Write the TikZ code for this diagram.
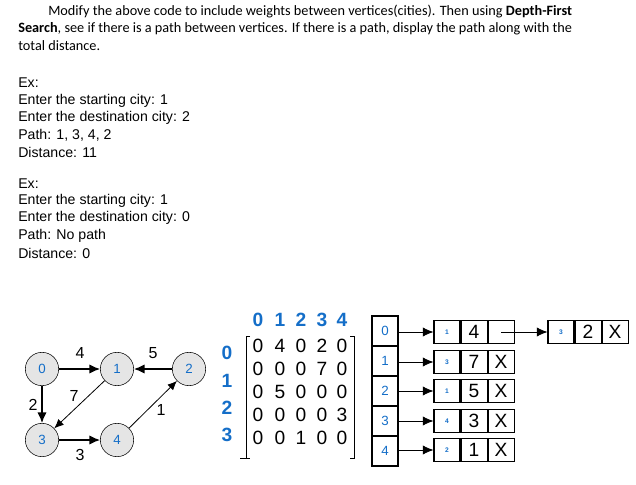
\documentclass[tikz,border=0pt]{standalone}
\usepackage{fontspec}
\setmainfont{Liberation Sans}
\newfontfamily\carlito{Carlito}
\usetikzlibrary{arrows.meta}
\definecolor{lblue}{RGB}{20,110,200}
\tikzset{
  vert/.style={circle,draw=black,fill=black!10,minimum size=25pt,inner sep=0pt,text=lblue,font=\normalsize},
  edge/.style={-{Latex[length=7pt,width=6pt]},line width=0.6pt},
  tedge/.style={-{Latex[length=8pt,width=7pt]},line width=1.1pt},
  wt/.style={font=\large},
  cell/.style={draw=black,line width=0.8pt,minimum width=19.5pt,minimum height=17pt,inner sep=0pt},
  arr/.style={draw=black,line width=1.2pt,minimum width=19.5pt,minimum height=22.3pt,inner sep=0pt,text=lblue,font=\normalsize},
  idx/.style={cell,text=lblue,font=\fontsize{5}{6}\selectfont\bfseries},
  hd/.style={text=lblue,font=\Large\bfseries},
  mx/.style={font=\Large},
  lnk/.style={-{Latex[length=8pt,width=7pt]},line width=0.6pt},
  txt/.style={anchor=west,inner sep=0pt,font=\fontsize{10.6}{12}\selectfont},
  para/.style={anchor=west,inner sep=0pt,font=\carlito\fontsize{10.7}{12}\selectfont}
}
\begin{document}
\begin{tikzpicture}[x=0.75pt,y=-0.75pt]
\useasboundingbox (0,0) rectangle (636,485);
% task text
\node[para] (p1) at (48,12) {Modify the above code to include weights between vertices(cities). Then using \textbf{Depth-First}};
\node[para] (p2) at (18,29) {\textbf{Search}, see if there is a path between vertices. If there is a path, display the path along with the};
\node[para] (p3) at (18,46) {total distance.};
\node[txt] (e1) at (18,83) {Ex:};
\node[txt] (e2) at (18,101) {Enter the starting city: 1};
\node[txt] (e3) at (18,118) {Enter the destination city: 2};
\node[txt] (e4) at (18,135) {Path: 1, 3, 4, 2};
\node[txt] (e5) at (18,152) {Distance: 11};
\node[txt] (f1) at (18,184) {Ex:};
\node[txt] (f2) at (18,201) {Enter the starting city: 1};
\node[txt] (f3) at (18,218) {Enter the destination city: 0};
\node[txt] (f4) at (18,236) {Path: No path};
\node[txt] (f5) at (18,253) {Distance: 0};
% graph
\node[vert] (v0) at (42,369) {0};
\node[vert] (v1) at (117,369) {1};
\node[vert] (v2) at (189,369) {2};
\node[vert] (v3) at (42,440) {3};
\node[vert] (v4) at (117,440) {4};
\draw[tedge] (v0) -- (v1);
\draw[tedge] (v2) -- (v1);
\draw[tedge] (v0) -- (v3);
\draw[edge] (v1) -- (v3);
\draw[tedge] (v3) -- (v4);
\draw[edge] (v4) -- (v2);
\node[wt] (w01) at (80,353) {4};
\node[wt] (w21) at (153,353) {5};
\node[wt] (w03) at (33,405) {2};
\node[wt] (w13) at (74,396) {7};
\node[wt] (w42) at (161,410) {1};
\node[wt] (w34) at (80,455) {3};
% matrix
\foreach \c [count=\i from 0] in {258,280,301,322,342} {
  \node[hd] (h\i) at (\c,320) {\i};
}
\foreach \r/\y in {0/353,1/381,2/408,3/435} {
  \node[hd] (r\r) at (227,\y) {\r};
}
\foreach \row [count=\j from 0] in {{0,4,0,2,0},{0,0,0,7,0},{0,5,0,0,0},{0,0,0,0,3},{0,0,1,0,0}} {
  \foreach \v [count=\i from 0] in \row {
    \pgfmathsetmacro\xx{{258,280,301,322,342}[\i]}
    \node[mx] (m\j\i) at (\xx,346+\j*23) {\v};
  }
}
\draw[line width=0.6pt] (250,336) -- (246,336) -- (246,458) -- (250,458);
\draw[line width=0.6pt] (350,336) -- (354,336) -- (354,458) -- (350,458);
\draw[line width=0.4pt] (240,458) -- (246,458);
% adjacency list
\foreach \i/\y in {0/331,1/361,2/391,3/421,4/451} {
  \node[arr] (a\i) at (385,\y) {\i};
}
\node[idx] (n0a) at (447,332) {1};
\node[cell,anchor=west,font=\Large] (n0b) at (n0a.east) {4};
\node[cell,anchor=west] (n0c) at (n0b.east) {};
\node[idx] (n5a) at (561,332) {3};
\node[cell,anchor=west,font=\Large] (n5b) at (n5a.east) {2};
\node[cell,anchor=west,font=\Large] (n5c) at (n5b.east) {X};
\foreach \i/\y/\a/\b in {1/362/3/7,2/391/1/5,3/421/4/3,4/450/2/1} {
  \node[idx] (n\i a) at (447,\y) {\a};
  \node[cell,anchor=west,font=\Large] (n\i b) at (n\i a.east) {\b};
  \node[cell,anchor=west,font=\Large] (n\i c) at (n\i b.east) {X};
}
\foreach \i in {0,...,4} {
  \draw[lnk] (a\i.east |- n\i a) -- (n\i a.west);
}
\coordinate (c0) at (n0c.center);
\draw[lnk] (c0) -- (n5a.west);
\end{tikzpicture}
\end{document}
